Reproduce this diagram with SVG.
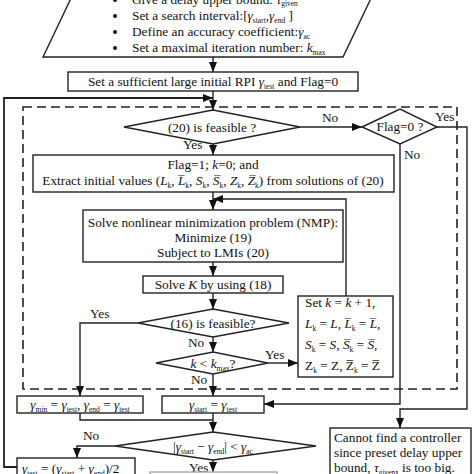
<svg xmlns="http://www.w3.org/2000/svg" width="474" height="474" viewBox="0 0 474 474">
<style>
text{font-family:"Liberation Serif","Times New Roman",serif;font-size:13.3px;fill:#111}
.c{text-anchor:middle}
.s{font-size:7.5px}
.i{font-style:italic}
.box{fill:#fff;stroke:#222;stroke-width:1.4}
.ln{fill:none;stroke:#222;stroke-width:1.4}
.dash{fill:none;stroke:#222;stroke-width:1.6;stroke-dasharray:9 5}
</style>
<defs>
<marker id="a" viewBox="0 0 10 8" refX="10" refY="4" markerWidth="10" markerHeight="8" markerUnits="userSpaceOnUse" orient="auto"><path d="M0,0 L10,4 L0,8 z" fill="#111"/></marker>
</defs>
<rect width="474" height="474" fill="#fff"/>
<rect class="dash" x="23" y="107" width="434" height="282"/>
<g id="connectors">
<path class="ln" d="M213,57 V72" marker-end="url(#a)"/>
<path class="ln" d="M213,91 V110" marker-end="url(#a)"/>
<path class="ln" style="stroke-width:1.8" d="M17,467 H4 V98 H213" marker-end="url(#a)"/>
<path class="ln" d="M300,127 H362" marker-end="url(#a)"/>
<path class="ln" d="M213,144 V155" marker-end="url(#a)"/>
<path class="ln" d="M213,192 V210" marker-end="url(#a)"/>
<path class="ln" d="M346,296 V199 H213" marker-end="url(#a)"/>
<path class="ln" d="M213,262 V276" marker-end="url(#a)"/>
<path class="ln" d="M213,293 V309" marker-end="url(#a)"/>
<path class="ln" d="M213,337 V352" marker-end="url(#a)"/>
<path class="ln" d="M138,323 H80 V396" marker-end="url(#a)"/>
<path class="ln" d="M268,363 H298" marker-end="url(#a)"/>
<path class="ln" d="M213,374 V396" marker-end="url(#a)"/>
<path class="ln" d="M400,144 V404 H264" marker-end="url(#a)"/>
<path class="ln" d="M437,127 H467 V409 H400 V428" marker-end="url(#a)"/>
<path class="ln" d="M80,413 V420 H213"/>
<path class="ln" d="M213,413 V432" marker-end="url(#a)"/>
<path class="ln" d="M115,446 H77 V458" marker-end="url(#a)"/>
<path class="ln" d="M213,460 V472" marker-end="url(#a)"/>
</g>
<g id="n-input">
<polygon class="box" points="43,57 343,57 374,-8 74,-8"/>
<circle cx="115" cy="0" r="2" fill="#111"/>
<circle cx="115" cy="16" r="2" fill="#111"/>
<circle cx="115" cy="32" r="2" fill="#111"/>
<circle cx="115" cy="48" r="2" fill="#111"/>
<text x="132" y="4">Give a delay upper bound: <tspan class="i">τ</tspan><tspan class="s" dy="2">given</tspan></text>
<text x="132" y="20">Set a search interval:[<tspan class="i">γ</tspan><tspan class="s" dy="3">start</tspan><tspan dy="-3">,</tspan><tspan class="i">γ</tspan><tspan class="s" dy="3">end</tspan><tspan dy="-3"> ]</tspan></text>
<text x="132" y="36">Define an accuracy coefficient:<tspan class="i">γ</tspan><tspan class="s" dy="3">ac</tspan></text>
<text x="132" y="52">Set a maximal iteration number: <tspan class="i">k</tspan><tspan class="s" dy="3">max</tspan></text>
</g>
<g id="n-init">
<rect class="box" x="68" y="72" width="290" height="19"/>
<text class="c" x="213" y="86">Set a sufficient large initial RPI <tspan class="i">γ</tspan><tspan class="s" dy="3">test</tspan><tspan dy="-3">  and Flag=0</tspan></text>
</g>
<g id="n-d20">
<polygon class="box" points="124,127 213,110 300,127 213,144"/>
<text class="c" x="212" y="132">(20) is feasible ?</text>
</g>
<g id="n-flag">
<polygon class="box" points="362,127 400,109 437,127 400,144"/>
<text class="c" x="400" y="131">Flag=0 ?</text>
</g>
<g id="labels">
<text x="322" y="122">No</text>
<text x="435" y="121">Yes</text>
<text x="404" y="159">No</text>
<text x="183" y="149">Yes</text>
<text x="90" y="318">Yes</text>
<text x="188" y="347">No</text>
<text x="265" y="359">Yes</text>
<text x="191" y="384">No</text>
<text x="83" y="440">No</text>
<text x="189" y="472">Yes</text>
</g>
<g id="n-flag1">
<rect class="box" x="33" y="155" width="361" height="37"/>
<text class="c" x="213" y="169">Flag=1; <tspan class="i">k</tspan>=0; and</text>
<text class="c" x="213" y="185">Extract initial values (<tspan class="i">L</tspan><tspan class="s" dy="3">k</tspan><tspan dy="-3">, </tspan><tspan class="i">L̅</tspan><tspan class="s" dy="3">k</tspan><tspan dy="-3">, </tspan><tspan class="i">S</tspan><tspan class="s" dy="3">k</tspan><tspan dy="-3">, </tspan><tspan class="i">S̅</tspan><tspan class="s" dy="3">k</tspan><tspan dy="-3">, </tspan><tspan class="i">Z</tspan><tspan class="s" dy="3">k</tspan><tspan dy="-3">, </tspan><tspan class="i">Z̅</tspan><tspan class="s" dy="3">k</tspan><tspan dy="-3">) from solutions of (20)</tspan></text>
</g>
<g id="n-nmp">
<rect class="box" x="83" y="210" width="260" height="52"/>
<text class="c" x="213" y="227">Solve nonlinear minimization problem (NMP):</text>
<text class="c" x="213" y="242">Minimize (19)</text>
<text class="c" x="213" y="257">Subject to LMIs (20)</text>
</g>
<g id="n-solvek">
<rect class="box" x="143" y="276" width="140" height="17"/>
<text class="c" x="213" y="289">Solve <tspan class="i">K</tspan> by using (18)</text>
</g>
<g id="n-d16">
<polygon class="box" points="138,323 213,309 289,323 213,337"/>
<text class="c" x="213" y="328">(16) is feasible?</text>
</g>
<g id="n-kmax">
<polygon class="box" points="156,363 213,352 268,363 213,374"/>
<text class="c" x="213" y="368"><tspan class="i">k</tspan> &lt; <tspan class="i">k</tspan><tspan class="s" dy="3">max</tspan><tspan dy="-3">?</tspan></text>
</g>
<g id="n-setk">
<rect class="box" x="298" y="296" width="95" height="81"/>
<text x="305" y="307">Set <tspan class="i">k</tspan> = <tspan class="i">k</tspan> + 1,</text>
<text x="305" y="328"><tspan class="i">L</tspan><tspan class="s" dy="3">k</tspan><tspan dy="-3"> = </tspan><tspan class="i">L</tspan>, <tspan class="i">L̅</tspan><tspan class="s" dy="3">k</tspan><tspan dy="-3"> = </tspan><tspan class="i">L̅</tspan>,</text>
<text x="305" y="349"><tspan class="i">S</tspan><tspan class="s" dy="3">k</tspan><tspan dy="-3"> = </tspan><tspan class="i">S</tspan>, <tspan class="i">S̅</tspan><tspan class="s" dy="3">k</tspan><tspan dy="-3"> = </tspan><tspan class="i">S̅</tspan>,</text>
<text x="305" y="370">Z<tspan class="s" dy="3">k</tspan><tspan dy="-3"> = Z, Z̅</tspan><tspan class="s" dy="3">k</tspan><tspan dy="-3"> = Z̅</tspan></text>
</g>
<g id="n-gmin">
<rect class="box" x="17" y="396" width="126" height="17"/>
<text class="c" x="80" y="409"><tspan class="i">γ</tspan><tspan class="s" dy="3">min</tspan><tspan dy="-3"> = </tspan><tspan class="i">γ</tspan><tspan class="s" dy="3">test</tspan><tspan dy="-3">, </tspan><tspan class="i">γ</tspan><tspan class="s" dy="3">end</tspan><tspan dy="-3"> = </tspan><tspan class="i">γ</tspan><tspan class="s" dy="3">test</tspan></text>
</g>
<g id="n-gstart">
<rect class="box" x="162" y="396" width="102" height="17"/>
<text class="c" x="213" y="409"><tspan class="i">γ</tspan><tspan class="s" dy="3">start</tspan><tspan dy="-3"> = </tspan><tspan class="i">γ</tspan><tspan class="s" dy="3">test</tspan></text>
</g>
<g id="n-acc">
<polygon class="box" points="115,446 213,432 316,446 213,460"/>
<text class="c" x="213" y="451">|<tspan class="i">γ</tspan><tspan class="s" dy="3">start</tspan><tspan dy="-3"> − </tspan><tspan class="i">γ</tspan><tspan class="s" dy="3">end</tspan><tspan dy="-3">| &lt; </tspan><tspan class="i">γ</tspan><tspan class="s" dy="3">ac</tspan></text>
</g>
<g id="n-gtest">
<rect class="box" x="17" y="458" width="118" height="24"/>
<text x="22" y="473"><tspan class="i">γ</tspan><tspan class="s" dy="3">test</tspan><tspan dy="-3"> = (</tspan><tspan class="i">γ</tspan><tspan class="s" dy="3">start</tspan><tspan dy="-3"> + </tspan><tspan class="i">γ</tspan><tspan class="s" dy="3">end</tspan><tspan dy="-3">)/2</tspan></text>
</g>
<g id="n-out">
<rect x="150" y="472" width="127" height="10" fill="#fff" stroke="#aaa" stroke-width="1.4"/>
</g>
<g id="n-cannot">
<rect class="box" x="330" y="428" width="141" height="54"/>
<text x="334" y="442">Cannot find a controller</text>
<text x="334" y="457">since preset delay upper</text>
<text x="334" y="472">bound, <tspan class="i">τ</tspan><tspan class="s" dy="3">given</tspan><tspan dy="-3">, is too big.</tspan></text>
</g>
</svg>
